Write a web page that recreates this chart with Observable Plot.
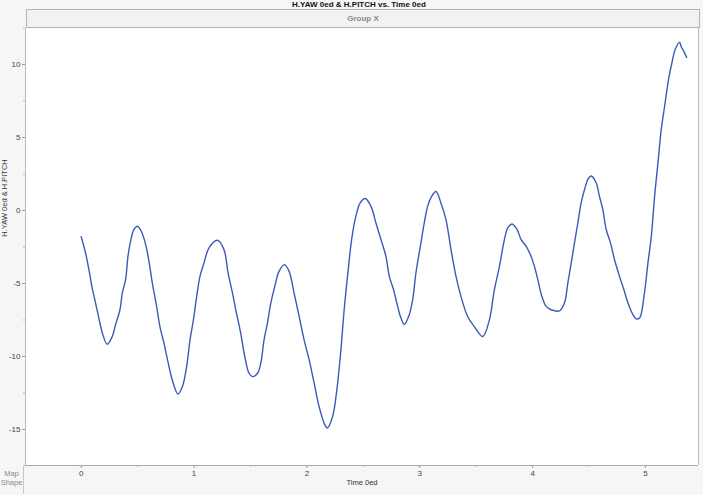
<!DOCTYPE html>
<html><head><meta charset="utf-8">
<script src="https://cdn.jsdelivr.net/npm/d3@7"></script>
<script src="https://cdn.jsdelivr.net/npm/@observablehq/plot@0.6"></script>
<style>
body{margin:0;background:#f6f6f6;font-family:"Liberation Sans",Arial,sans-serif;}
#wrap{position:relative;width:703px;height:495px;overflow:hidden;background:#f6f6f6;}
#title{position:absolute;left:0;width:718px;top:0px;text-align:center;font-weight:bold;font-size:8px;line-height:9px;color:#111;}
#group{position:absolute;left:26px;top:9px;width:672px;height:17px;border:1px solid #b4b4b4;background:#f2f2f2;text-align:center;font-size:8px;line-height:17px;color:#8a8a8a;font-weight:bold;}
#map{position:absolute;left:0;top:466px;width:24px;height:28px;border-right:1px solid #c8c8c8;text-align:center;font-size:7.5px;line-height:9px;color:#8a8a8a;padding-top:3px;box-sizing:border-box;}
#chart{position:absolute;left:0;top:0;}
</style></head>
<body>
<div id="wrap">
<div id="chart"></div>
<div id="title">H.YAW 0ed &amp; H.PITCH vs. Time 0ed</div>
<div id="group">Group X</div>
<div id="map">Map<br>Shape</div>
</div>
<script>
const timeValues = [0.000,0.038,0.068,0.097,0.127,0.156,0.192,0.230,0.275,0.304,0.343,0.364,0.393,0.414,0.437,0.467,0.497,0.532,0.571,0.600,0.630,0.668,0.697,0.733,0.768,0.807,0.857,0.896,0.934,0.964,0.994,1.023,1.052,1.088,1.132,1.207,1.265,1.301,1.340,1.369,1.413,1.449,1.487,1.517,1.562,1.591,1.620,1.650,1.680,1.715,1.753,1.800,1.842,1.886,1.931,1.975,2.020,2.064,2.108,2.153,2.180,2.227,2.265,2.301,2.330,2.366,2.396,2.434,2.472,2.517,2.567,2.611,2.656,2.700,2.730,2.768,2.804,2.833,2.863,2.907,2.937,2.966,3.005,3.040,3.070,3.106,3.144,3.188,3.232,3.277,3.321,3.365,3.424,3.483,3.558,3.617,3.661,3.706,3.750,3.780,3.818,3.862,3.898,3.943,3.980,4.016,4.046,4.082,4.120,4.164,4.238,4.282,4.312,4.342,4.371,4.401,4.430,4.460,4.490,4.519,4.563,4.592,4.622,4.652,4.690,4.726,4.770,4.809,4.845,4.889,4.918,4.948,4.987,5.022,5.052,5.081,5.111,5.140,5.170,5.205,5.235,5.265,5.303,5.318,5.340,5.365];
const yawPitch = [-1.80,-2.91,-4.05,-5.31,-6.34,-7.37,-8.52,-9.16,-8.63,-7.83,-6.80,-5.65,-4.74,-3.14,-2.11,-1.30,-1.08,-1.42,-2.34,-3.48,-4.97,-6.57,-7.95,-9.09,-10.35,-11.61,-12.57,-12.07,-10.69,-8.86,-7.49,-5.88,-4.51,-3.59,-2.56,-2.04,-2.68,-4.28,-5.65,-6.80,-8.40,-10.00,-11.15,-11.38,-11.15,-10.46,-8.86,-7.71,-6.34,-5.20,-4.17,-3.71,-4.17,-5.65,-7.26,-8.86,-10.23,-11.83,-13.44,-14.58,-14.90,-14.13,-12.29,-9.55,-6.80,-4.05,-1.99,-0.39,0.53,0.82,0.30,-0.84,-1.99,-3.14,-4.51,-5.43,-6.57,-7.37,-7.80,-7.14,-6.11,-4.28,-2.45,-0.84,0.30,0.98,1.30,0.50,-0.62,-2.68,-4.51,-5.88,-7.26,-7.95,-8.63,-7.49,-5.43,-3.83,-1.99,-1.19,-0.92,-1.30,-1.99,-2.45,-3.02,-3.83,-4.74,-5.88,-6.57,-6.80,-6.87,-6.34,-4.97,-3.59,-2.22,-0.84,0.53,1.44,2.13,2.36,1.90,0.98,0.07,-1.30,-2.22,-3.37,-4.51,-5.43,-6.34,-7.14,-7.42,-7.37,-5.88,-3.59,-1.76,0.98,3.28,5.56,7.16,9.00,10.14,11.06,11.52,11.20,10.90,10.49];
const xTicks = [0,1,2,3,4,5];
const xMinorTicks = [0.5,1.5,2.5,3.5,4.5];
const yTicks = [-15,-10,-5,0,5,10];
const yMinorTicks = [-17.5,-12.5,-7.5,-2.5,2.5,7.5,12.5];
const xLabel = "Time 0ed";
const yLabel = "H.YAW 0ed & H.PITCH";

const data = timeValues.map((t,i)=>({t, v: yawPitch[i]}));

const chart = Plot.plot({
  width: 703, height: 495,
  marginLeft: 25, marginRight: 5, marginTop: 28, marginBottom: 30,
  style: {fontFamily: '"Liberation Sans", Arial, sans-serif', fontSize: "8px", color: "#444", background: "transparent"},
  x: {domain: [-0.494, 5.47]},
  y: {domain: [-17.47, 12.47]},
  marks: [
    Plot.frame({fill: "white", stroke: null}),
    Plot.axisX({ticks: xTicks, tickSize: 3, tickPadding: 2, tickFormat: d => String(d), label: null, stroke: "#999"}),
    Plot.axisX({ticks: xMinorTicks, tickSize: 2, text: null, label: null, stroke: "#bbb"}),
    Plot.axisY({ticks: yTicks, tickSize: 3, tickPadding: 2, tickFormat: d => d < 0 ? "-" + Math.abs(d) : String(d), label: null, stroke: "#999"}),
    Plot.axisY({ticks: yMinorTicks, tickSize: 2, text: null, label: null, stroke: "#bbb"}),
    Plot.ruleY([-17.47], {stroke: "#aaa"}),
    Plot.ruleX([-0.494], {stroke: "#bbb"}),
    Plot.ruleX([5.47], {stroke: "#bbb"}),
    Plot.line(data, {x: "t", y: "v", stroke: "#3b5cb6", strokeWidth: 1.4, curve: "catmull-rom"}),
    Plot.text([xLabel], {frameAnchor: "bottom", dy: 19, fontSize: 7.5, fill: "#333"}),
    Plot.text([yLabel], {frameAnchor: "left", y: [-1.8], dx: -21, rotate: -90, fontSize: 7.5, fill: "#333"})
  ]
});
document.getElementById("chart").appendChild(chart);
</script>
</body></html>
